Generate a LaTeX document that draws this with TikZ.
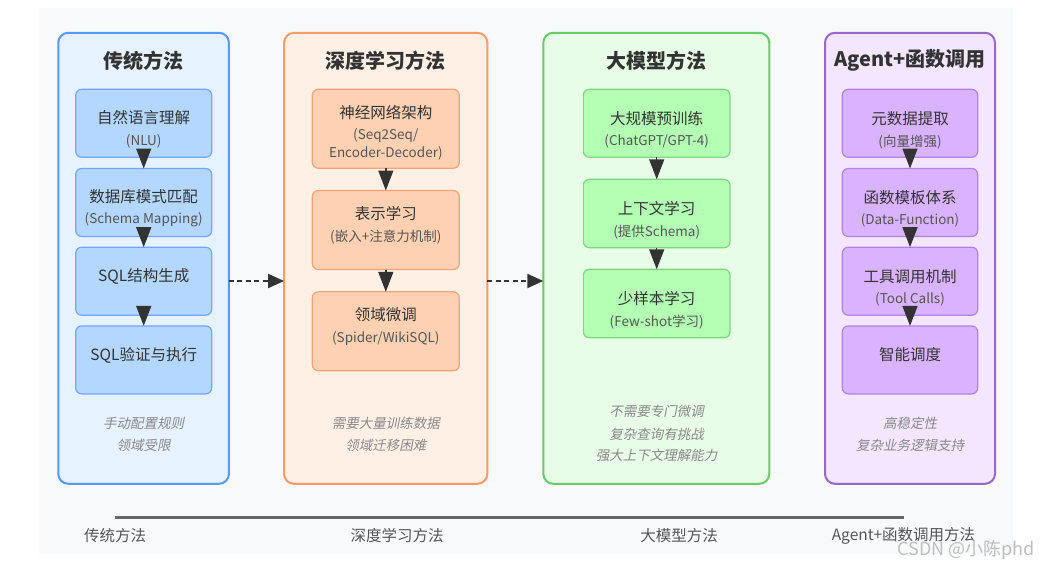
\documentclass[tikz,border=0pt]{standalone}
\usepackage{fontspec}
\setmainfont{Noto Sans CJK SC}
\newfontfamily\itfont[FakeSlant=0.2]{Noto Sans CJK SC}
\usetikzlibrary{arrows.meta}
\definecolor{bgc}{HTML}{F8F9FA}
\definecolor{txt}{HTML}{333333}
\definecolor{sub}{HTML}{555555}
\definecolor{foot}{HTML}{888888}
\definecolor{bluefill}{HTML}{E6F2FF}
\definecolor{blueline}{HTML}{5599FF}
\definecolor{bluebox}{HTML}{B3D7FF}
\definecolor{blueboxline}{HTML}{6EA8FF}
\definecolor{orfill}{HTML}{FFF0E6}
\definecolor{orline}{HTML}{FF9966}
\definecolor{orbox}{HTML}{FFD1B3}
\definecolor{orboxline}{HTML}{FFA375}
\definecolor{grfill}{HTML}{E8FDE8}
\definecolor{grline}{HTML}{66CC66}
\definecolor{grbox}{HTML}{B3FFB3}
\definecolor{grboxline}{HTML}{7ED87E}
\definecolor{pufill}{HTML}{F3E6FF}
\definecolor{puline}{HTML}{9966CC}
\definecolor{pubox}{HTML}{DAB3FF}
\definecolor{puboxline}{HTML}{B380E6}
\tikzset{
  panel/.style={draw, line width=2pt, rounded corners=10pt, inner sep=0pt, outer sep=0pt},
  stepbox/.style={draw, line width=1.2pt, rounded corners=6pt, inner sep=0pt, outer sep=0pt},
  ttl/.style={font=\bfseries\fontsize{20}{24}\selectfont, text=txt, inner sep=0pt},
  maintxt/.style={font=\fontsize{15.5}{18}\selectfont, text=txt, inner sep=0pt},
  subtxt/.style={font=\fontsize{13.5}{16}\selectfont, text=sub, inner sep=0pt},
  foottxt/.style={font=\itfont\fontsize{13.5}{16}\selectfont, text=foot, inner sep=0pt},
  lbl/.style={font=\fontsize{15.5}{18}\selectfont, text=sub, inner sep=0pt},
  flow/.style={draw=txt, line width=1.5pt, -{Triangle[length=20pt,width=15pt]}},
  dasharrow/.style={draw=txt, line width=2pt, dash pattern=on 5pt off 3.5pt, -{Triangle[length=16pt,width=14pt]}},
}
\begin{document}
\begin{tikzpicture}[x=1pt,y=-1pt]
\useasboundingbox (0,0) rectangle (1043,567);
\fill[white] (0,0) rectangle (1043,567);
\fill[bgc] (39,8) rectangle (1013,554);

% panels
\node[panel, draw=blueline, fill=bluefill, minimum width=170.7pt, minimum height=451pt] (p1) at (143.6,258.3) {};
\node[panel, draw=orline, fill=orfill, minimum width=203.3pt, minimum height=451pt] (p2) at (385.7,258.3) {};
\node[panel, draw=grline, fill=grfill, minimum width=226pt, minimum height=451pt] (p3) at (656.3,258.3) {};
\node[panel, draw=puline, fill=pufill, minimum width=170pt, minimum height=451pt] (p4) at (910,258.3) {};

% titles
\node[ttl] (t1) at (143.6,60.5) {传统方法};
\node[ttl] (t2) at (385.7,60.5) {深度学习方法};
\node[ttl] (t3) at (656.3,60.5) {大模型方法};
\node[ttl] (t4) at (910,60.5) {Agent+函数调用};

% panel 1 boxes
\node[stepbox, draw=blueboxline, fill=bluebox, minimum width=136pt, minimum height=68pt] (a1) at (143.7,123.3) {};
\node[stepbox, draw=blueboxline, fill=bluebox, minimum width=136pt, minimum height=68pt] (a2) at (143.7,202.5) {};
\node[stepbox, draw=blueboxline, fill=bluebox, minimum width=136pt, minimum height=68pt] (a3) at (143.7,281.2) {};
\node[stepbox, draw=blueboxline, fill=bluebox, minimum width=136pt, minimum height=68pt] (a4) at (143.7,359.9) {};
\node[maintxt] (a1m) at (143.7,118) {自然语言理解};
\node[subtxt] (a1s) at (143.7,141) {(NLU)};
\node[maintxt] (a2m) at (143.7,197) {数据库模式匹配};
\node[subtxt] (a2s) at (143.7,219.5) {(Schema Mapping)};
\node[maintxt] (a3m) at (143.7,276) {SQL结构生成};
\node[maintxt] (a4m) at (143.7,355) {SQL验证与执行};
\node[foottxt] (a5) at (143.7,423.3) {手动配置规则};
\node[foottxt] (a6) at (143.7,445) {领域受限};
\draw[flow] (a1.south) -- (a2.north);
\draw[flow] (a2.south) -- (a3.north);
\draw[flow] (a3.south) -- (a4.north);

% panel 2 boxes
\node[stepbox, draw=orboxline, fill=orbox, minimum width=147pt, minimum height=79pt] (b1) at (385.8,128.8) {};
\node[stepbox, draw=orboxline, fill=orbox, minimum width=147pt, minimum height=79pt] (b2) at (385.8,230) {};
\node[stepbox, draw=orboxline, fill=orbox, minimum width=147pt, minimum height=79pt] (b3) at (385.8,331.3) {};
\node[maintxt] (b1m) at (385.8,113) {神经网络架构};
\node[subtxt] (b1s) at (385.8,136) {(Seq2Seq/};
\node[subtxt] (b1t) at (385.8,153) {Encoder-Decoder)};
\node[maintxt] (b2m) at (385.8,213.3) {表示学习};
\node[subtxt] (b2s) at (385.8,237.3) {(嵌入+注意力机制)};
\node[maintxt] (b3m) at (385.8,315) {领域微调};
\node[subtxt] (b3s) at (385.8,338.3) {(Spider/WikiSQL)};
\node[foottxt] (b5) at (385.8,423.3) {需要大量训练数据};
\node[foottxt] (b6) at (385.8,445) {领域迁移困难};
\draw[flow] (b1.south) -- (b2.north);
\draw[flow] (b2.south) -- (b3.north);

% panel 3 boxes
\node[stepbox, draw=grboxline, fill=grbox, minimum width=146.7pt, minimum height=68pt] (c1) at (656.7,123.3) {};
\node[stepbox, draw=grboxline, fill=grbox, minimum width=146.7pt, minimum height=68.4pt] (c2) at (656.7,213.5) {};
\node[stepbox, draw=grboxline, fill=grbox, minimum width=146.7pt, minimum height=68.4pt] (c3) at (656.7,303.5) {};
\node[maintxt] (c1m) at (656.7,119) {大规模预训练};
\node[subtxt] (c1s) at (656.7,141.7) {(ChatGPT/GPT-4)};
\node[maintxt] (c2m) at (656.7,208.3) {上下文学习};
\node[subtxt] (c2s) at (656.7,231.7) {(提供Schema)};
\node[maintxt] (c3m) at (656.7,298.3) {少样本学习};
\node[subtxt] (c3s) at (656.7,321.7) {(Few-shot学习)};
\node[foottxt] (c5) at (656.7,411.7) {不需要专门微调};
\node[foottxt] (c6) at (656.7,434.3) {复杂查询有挑战};
\node[foottxt] (c7) at (656.7,455.7) {强大上下文理解能力};
\draw[flow] (c1.south) -- (c2.north);
\draw[flow] (c2.south) -- (c3.north);

% panel 4 boxes
\node[stepbox, draw=puboxline, fill=pubox, minimum width=135.4pt, minimum height=68pt] (d1) at (910,123.3) {};
\node[stepbox, draw=puboxline, fill=pubox, minimum width=135.4pt, minimum height=68pt] (d2) at (910,202.5) {};
\node[stepbox, draw=puboxline, fill=pubox, minimum width=135.4pt, minimum height=68pt] (d3) at (910,281.2) {};
\node[stepbox, draw=puboxline, fill=pubox, minimum width=135.4pt, minimum height=68pt] (d4) at (910,359.9) {};
\node[maintxt] (d1m) at (910,119) {元数据提取};
\node[subtxt] (d1s) at (910,141.7) {(向量增强)};
\node[maintxt] (d2m) at (910,197.3) {函数模板体系};
\node[subtxt] (d2s) at (910,220) {(Data-Function)};
\node[maintxt] (d3m) at (910,276.7) {工具调用机制};
\node[subtxt] (d3s) at (910,299.3) {(Tool Calls)};
\node[maintxt] (d4m) at (910,355) {智能调度};
\node[foottxt] (d5) at (910,423.3) {高稳定性};
\node[foottxt] (d6) at (910,445) {复杂业务逻辑支持};
\draw[flow] (d1.south) -- (d2.north);
\draw[flow] (d2.south) -- (d3.north);
\draw[flow] (d3.south) -- (d4.north);

% dashed arrows between panels
\coordinate (yrow) at (0,281);
\draw[dasharrow] (p1.east |- yrow) -- (p2.west |- yrow);
\draw[dasharrow] (p2.east |- yrow) -- (p3.west |- yrow);

% timeline
\coordinate (tl1) at (115,517.5);
\coordinate (tl2) at (903.5,517.5);
\draw[line width=3pt, draw={rgb,255:red,102;green,102;blue,102}] (tl1) -- (tl2);
\node[lbl] (l1) at (115,535.5) {传统方法};
\node[lbl] (l2) at (397,535.5) {深度学习方法};
\node[lbl] (l3) at (679,535.5) {大模型方法};
\node[lbl] (l4) at (903.5,535.5) {Agent+函数调用方法};

% watermark
\node[font=\fontsize{18}{21}\selectfont, text={rgb,255:red,190;green,190;blue,190}, inner sep=0pt] (wm) at (966,550) {CSDN @小陈phd};
\end{tikzpicture}
\end{document}
